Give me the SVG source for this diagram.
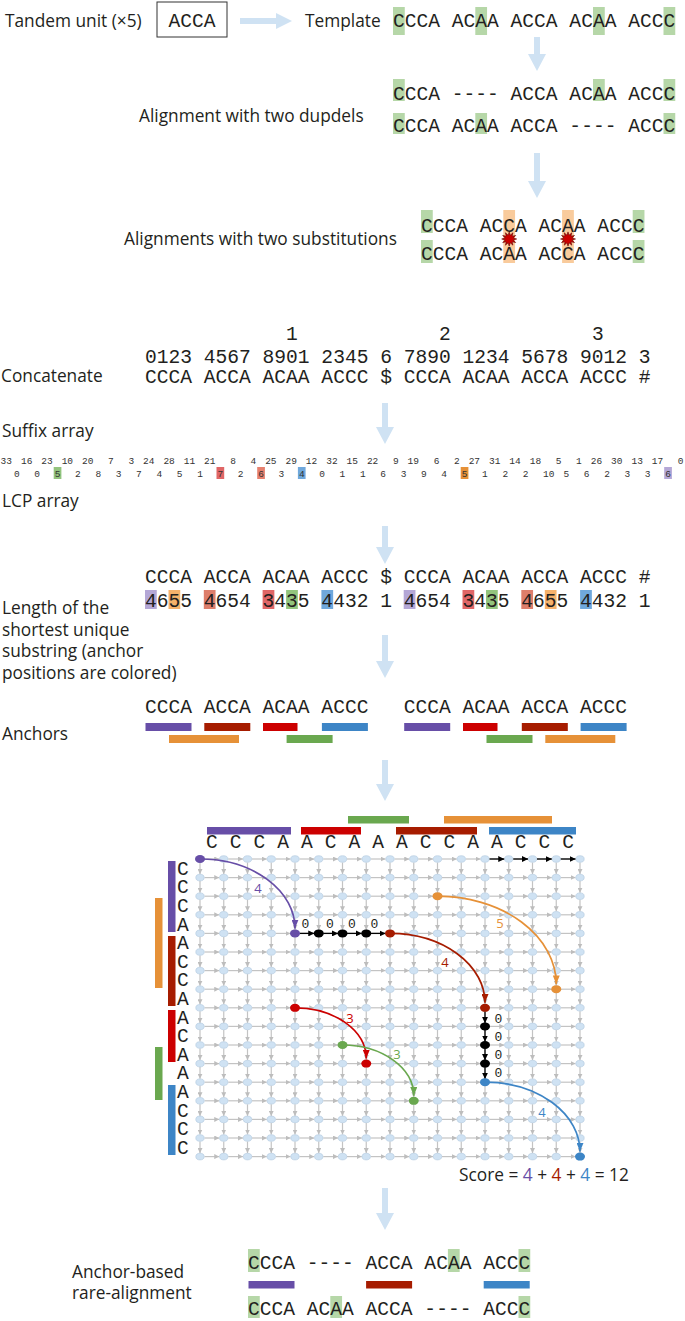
<svg xmlns="http://www.w3.org/2000/svg" width="685" height="1321" viewBox="0 0 685 1321">
<style>
.m{font-family:"Liberation Mono","DejaVu Sans Mono",monospace;font-size:19.6px;fill:#231f20}
.l{font-family:"Open Sans","Liberation Sans",sans-serif;font-size:17.3px;fill:#231f20}
.s{font-family:"Liberation Mono","DejaVu Sans Mono",monospace;font-size:9.5px;fill:#333}
.z{font-family:"Liberation Mono","DejaVu Sans Mono",monospace;font-size:13px;fill:#231f20}
.n{font-family:"Open Sans","Liberation Sans",sans-serif;font-size:13px}
.pa{fill:#cfe2f3}
.hg{fill:#b6d7a8}
.ho{fill:#f9cb9c}
.gl{stroke:#c3c3c3;stroke-width:1.2;marker-end:url(#mg)}
.nd{fill:#cfe2f3;stroke:#b0c8de;stroke-width:0.6}
.bl{stroke:#000;stroke-width:1.3;marker-end:url(#mk)}
.cv{fill:none;stroke-width:1.7}
</style>
<defs>
<marker id="mg" viewBox="0 0 10 10" refX="10" refY="5" markerWidth="5" markerHeight="5" markerUnits="userSpaceOnUse" orient="auto"><path d="M0,0 L10,5 L0,10 z" fill="#bdbdbd"/></marker>
<marker id="mk" viewBox="0 0 10 10" refX="10" refY="5" markerWidth="6" markerHeight="6" markerUnits="userSpaceOnUse" orient="auto"><path d="M0,0 L10,5 L0,10 z" fill="#000"/></marker>
<marker id="mpu" viewBox="0 0 10 8" refX="10" refY="4" markerWidth="9" markerHeight="7" markerUnits="userSpaceOnUse" orient="auto"><path d="M0,0 L10,4 L0,8 z" fill="#674ea7"/></marker>
<marker id="mdr" viewBox="0 0 10 8" refX="10" refY="4" markerWidth="9" markerHeight="7" markerUnits="userSpaceOnUse" orient="auto"><path d="M0,0 L10,4 L0,8 z" fill="#a61c00"/></marker>
<marker id="mre" viewBox="0 0 10 8" refX="10" refY="4" markerWidth="9" markerHeight="7" markerUnits="userSpaceOnUse" orient="auto"><path d="M0,0 L10,4 L0,8 z" fill="#cc0000"/></marker>
<marker id="mgr" viewBox="0 0 10 8" refX="10" refY="4" markerWidth="9" markerHeight="7" markerUnits="userSpaceOnUse" orient="auto"><path d="M0,0 L10,4 L0,8 z" fill="#6aa84f"/></marker>
<marker id="mor" viewBox="0 0 10 8" refX="10" refY="4" markerWidth="9" markerHeight="7" markerUnits="userSpaceOnUse" orient="auto"><path d="M0,0 L10,4 L0,8 z" fill="#e69138"/></marker>
<marker id="mbl" viewBox="0 0 10 8" refX="10" refY="4" markerWidth="9" markerHeight="7" markerUnits="userSpaceOnUse" orient="auto"><path d="M0,0 L10,4 L0,8 z" fill="#3d85c6"/></marker>
<polygon id="burst" points="7.5,0 4.06,1.09 6.5,3.75 2.97,2.97 3.75,6.5 1.09,4.06 0,7.5 -1.09,4.06 -3.75,6.5 -2.97,2.97 -6.5,3.75 -4.06,1.09 -7.5,0 -4.06,-1.09 -6.5,-3.75 -2.97,-2.97 -3.75,-6.5 -1.09,-4.06 0,-7.5 1.09,-4.06 3.75,-6.5 2.97,-2.97 6.5,-3.75 4.06,-1.09" fill="#cc0000" stroke="#5a0000" stroke-width="0.6"/>
<g id="gv">
<line class="gl" x1="200" y1="3.5" x2="200" y2="15.1"/><line class="gl" x1="223.75" y1="3.5" x2="223.75" y2="15.1"/><line class="gl" x1="247.5" y1="3.5" x2="247.5" y2="15.1"/><line class="gl" x1="271.25" y1="3.5" x2="271.25" y2="15.1"/><line class="gl" x1="295" y1="3.5" x2="295" y2="15.1"/><line class="gl" x1="318.75" y1="3.5" x2="318.75" y2="15.1"/><line class="gl" x1="342.5" y1="3.5" x2="342.5" y2="15.1"/><line class="gl" x1="366.25" y1="3.5" x2="366.25" y2="15.1"/><line class="gl" x1="390" y1="3.5" x2="390" y2="15.1"/><line class="gl" x1="413.75" y1="3.5" x2="413.75" y2="15.1"/><line class="gl" x1="437.5" y1="3.5" x2="437.5" y2="15.1"/><line class="gl" x1="461.25" y1="3.5" x2="461.25" y2="15.1"/><line class="gl" x1="485" y1="3.5" x2="485" y2="15.1"/><line class="gl" x1="508.75" y1="3.5" x2="508.75" y2="15.1"/><line class="gl" x1="532.5" y1="3.5" x2="532.5" y2="15.1"/><line class="gl" x1="556.25" y1="3.5" x2="556.25" y2="15.1"/><line class="gl" x1="580" y1="3.5" x2="580" y2="15.1"/>
</g>
<g id="gh">
<line class="gl" x1="204.5" y1="0" x2="219.25" y2="0"/><line class="gl" x1="228.25" y1="0" x2="243" y2="0"/><line class="gl" x1="252" y1="0" x2="266.75" y2="0"/><line class="gl" x1="275.75" y1="0" x2="290.5" y2="0"/><line class="gl" x1="299.5" y1="0" x2="314.25" y2="0"/><line class="gl" x1="323.25" y1="0" x2="338" y2="0"/><line class="gl" x1="347" y1="0" x2="361.75" y2="0"/><line class="gl" x1="370.75" y1="0" x2="385.5" y2="0"/><line class="gl" x1="394.5" y1="0" x2="409.25" y2="0"/><line class="gl" x1="418.25" y1="0" x2="433" y2="0"/><line class="gl" x1="442" y1="0" x2="456.75" y2="0"/><line class="gl" x1="465.75" y1="0" x2="480.5" y2="0"/><line class="gl" x1="489.5" y1="0" x2="504.25" y2="0"/><line class="gl" x1="513.25" y1="0" x2="528" y2="0"/><line class="gl" x1="537" y1="0" x2="551.75" y2="0"/><line class="gl" x1="560.75" y1="0" x2="575.5" y2="0"/>
<ellipse class="nd" cx="200" cy="0" rx="4.2" ry="3.3"/><ellipse class="nd" cx="223.75" cy="0" rx="4.2" ry="3.3"/><ellipse class="nd" cx="247.5" cy="0" rx="4.2" ry="3.3"/><ellipse class="nd" cx="271.25" cy="0" rx="4.2" ry="3.3"/><ellipse class="nd" cx="295" cy="0" rx="4.2" ry="3.3"/><ellipse class="nd" cx="318.75" cy="0" rx="4.2" ry="3.3"/><ellipse class="nd" cx="342.5" cy="0" rx="4.2" ry="3.3"/><ellipse class="nd" cx="366.25" cy="0" rx="4.2" ry="3.3"/><ellipse class="nd" cx="390" cy="0" rx="4.2" ry="3.3"/><ellipse class="nd" cx="413.75" cy="0" rx="4.2" ry="3.3"/><ellipse class="nd" cx="437.5" cy="0" rx="4.2" ry="3.3"/><ellipse class="nd" cx="461.25" cy="0" rx="4.2" ry="3.3"/><ellipse class="nd" cx="485" cy="0" rx="4.2" ry="3.3"/><ellipse class="nd" cx="508.75" cy="0" rx="4.2" ry="3.3"/><ellipse class="nd" cx="532.5" cy="0" rx="4.2" ry="3.3"/><ellipse class="nd" cx="556.25" cy="0" rx="4.2" ry="3.3"/><ellipse class="nd" cx="580" cy="0" rx="4.2" ry="3.3"/>
</g>
</defs>
<rect width="685" height="1321" fill="#fff"/>

<!-- big pale arrows -->
<g id="flow-arrows">
<path class="pa" d="M240,18 L276,18 L276,13 L292,21 L276,29 L276,24 L240,24 Z"/>
<path class="pa" d="M534,37 L540,37 L540,54 L546,54 L537,71 L528,54 L534,54 Z"/>
<path class="pa" d="M534,153 L540,153 L540,181 L546,181 L537,198 L528,181 L534,181 Z"/>
<path class="pa" d="M382,403 L388,403 L388,427 L394,427 L385,444 L376,427 L382,427 Z"/>
<path class="pa" d="M382,526 L388,526 L388,547 L394,547 L385,564 L376,547 L382,547 Z"/>
<path class="pa" d="M382,635 L388,635 L388,661 L394,661 L385,678 L376,661 L382,661 Z"/>
<path class="pa" d="M382,760 L388,760 L388,784 L394,784 L385,801 L376,784 L382,784 Z"/>
<path class="pa" d="M382,1188 L388,1188 L388,1213 L394,1213 L385,1230 L376,1213 L382,1213 Z"/>
</g>

<!-- row 1 -->
<g id="tandem">
<text class="l" x="5" y="27">Tandem unit (×5)</text>
<rect x="157" y="2" width="70" height="35" fill="#fff" stroke="#333" stroke-width="1"/>
<text class="m" x="192" y="27" text-anchor="middle">ACCA</text>
</g>
<g id="template">
<text class="l" x="305" y="27">Template</text>
<rect class="hg" x="393" y="7" width="11.76" height="28"/>
<rect class="hg" x="475.3" y="7" width="11.76" height="28"/>
<rect class="hg" x="593" y="7" width="11.76" height="28"/>
<rect class="hg" x="663.5" y="7" width="11.76" height="28"/>
<text class="m" x="393" y="27">CCCA ACAA ACCA ACAA ACCC</text>
</g>

<g id="dupdels">
<text class="l" x="139" y="122">Alignment with two dupdels</text>
<rect class="hg" x="393" y="79" width="11.76" height="22"/>
<rect class="hg" x="593" y="79" width="11.76" height="22"/>
<rect class="hg" x="663.5" y="79" width="11.76" height="22"/>
<text class="m" x="393" y="100">CCCA ---- ACCA ACAA ACCC</text>
<rect class="hg" x="393" y="113" width="11.76" height="21"/>
<rect class="hg" x="475.3" y="113" width="11.76" height="21"/>
<rect class="hg" x="663.5" y="113" width="11.76" height="21"/>
<text class="m" x="393" y="132">CCCA ACAA ACCA ---- ACCC</text>
</g>

<g id="substitutions">
<text class="l" x="124" y="245">Alignments with two substitutions</text>
<rect class="ho" x="503.3" y="210" width="11.76" height="53"/>
<rect class="ho" x="562.1" y="210" width="11.76" height="53"/>
<rect class="hg" x="421" y="210" width="11.76" height="23"/>
<rect class="hg" x="632.7" y="210" width="11.76" height="23"/>
<rect class="hg" x="421" y="240" width="11.76" height="23"/>
<rect class="hg" x="632.7" y="240" width="11.76" height="23"/>
<text class="m" x="421" y="232">CCCA ACCA ACAA ACCC</text>
<text class="m" x="421" y="260">CCCA ACAA ACCA ACCC</text>
<use href="#burst" transform="translate(509.2,239) scale(1,0.95)"/>
<use href="#burst" transform="translate(568,239) scale(1,0.95)"/>
</g>

<g id="concatenate">
<text class="m" x="286.1" y="339.5">1</text>
<text class="m" x="439" y="339.5">2</text>
<text class="m" x="591.9" y="339.5">3</text>
<text class="m" x="145" y="363">0123 4567 8901 2345 6 7890 1234 5678 9012 3</text>
<text class="l" x="1" y="382">Concatenate</text>
<text class="m" x="145" y="383">CCCA ACCA ACAA ACCC $ CCCA ACAA ACCA ACCC #</text>
</g>

<g id="suffix-lcp">
<text class="l" x="2" y="437">Suffix array</text>
<text class="l" x="2" y="507">LCP array</text>
<rect x="53.7" y="467" width="7.7" height="12" fill="#93c47d"/>
<rect x="216.5" y="467" width="7.7" height="12" fill="#e06666"/>
<rect x="257.2" y="467" width="7.7" height="12" fill="#e6806e"/>
<rect x="297.9" y="467" width="7.7" height="12" fill="#6fa8dc"/>
<rect x="460.7" y="467" width="7.7" height="12" fill="#e69138"/>
<rect x="664.2" y="467" width="7.7" height="12" fill="#b4a7d6"/>
<g class="s" text-anchor="end">
<text x="12" y="464">33</text><text x="32.35" y="464">16</text><text x="52.7" y="464">23</text><text x="73.05" y="464">10</text><text x="93.4" y="464">20</text><text x="113.75" y="464">7</text><text x="134.1" y="464">3</text><text x="154.45" y="464">24</text><text x="174.8" y="464">28</text><text x="195.15" y="464">11</text><text x="215.5" y="464">21</text><text x="235.85" y="464">8</text><text x="256.2" y="464">4</text><text x="276.55" y="464">25</text><text x="296.9" y="464">29</text><text x="317.25" y="464">12</text><text x="337.6" y="464">32</text><text x="357.95" y="464">15</text><text x="378.3" y="464">22</text><text x="398.65" y="464">9</text><text x="419" y="464">19</text><text x="439.35" y="464">6</text><text x="459.7" y="464">2</text><text x="480.05" y="464">27</text><text x="500.4" y="464">31</text><text x="520.75" y="464">14</text><text x="541.1" y="464">18</text><text x="561.45" y="464">5</text><text x="581.8" y="464">1</text><text x="602.15" y="464">26</text><text x="622.5" y="464">30</text><text x="642.85" y="464">13</text><text x="663.2" y="464">17</text><text x="683.55" y="464">0</text>
</g>
<g class="s">
<text x="14" y="477">0</text><text x="34.35" y="477">0</text><text x="54.7" y="477">5</text><text x="75.05" y="477">2</text><text x="95.4" y="477">8</text><text x="115.75" y="477">3</text><text x="136.1" y="477">7</text><text x="156.45" y="477">4</text><text x="176.8" y="477">5</text><text x="197.15" y="477">1</text><text x="217.5" y="477">7</text><text x="237.85" y="477">2</text><text x="258.2" y="477">6</text><text x="278.55" y="477">3</text><text x="298.9" y="477">4</text><text x="319.25" y="477">0</text><text x="339.6" y="477">1</text><text x="359.95" y="477">1</text><text x="380.3" y="477">6</text><text x="400.65" y="477">3</text><text x="421" y="477">9</text><text x="441.35" y="477">4</text><text x="461.7" y="477">5</text><text x="482.05" y="477">1</text><text x="502.4" y="477">2</text><text x="522.75" y="477">2</text><text x="543.1" y="477">10</text><text x="563.45" y="477">5</text><text x="583.8" y="477">6</text><text x="604.15" y="477">2</text><text x="624.5" y="477">3</text><text x="644.85" y="477">3</text><text x="665.2" y="477">6</text>
</g>
</g>

<g id="lengths">
<text class="m" x="145" y="583">CCCA ACCA ACAA ACCC $ CCCA ACAA ACCA ACCC #</text>
<rect x="145" y="590" width="11.76" height="19" fill="#b4a7d6"/>
<rect x="168.5" y="590" width="11.76" height="19" fill="#f6b26b"/>
<rect x="203.8" y="590" width="11.76" height="19" fill="#dd7e6b"/>
<rect x="262.6" y="590" width="11.76" height="19" fill="#e06666"/>
<rect x="286.1" y="590" width="11.76" height="19" fill="#93c47d"/>
<rect x="321.4" y="590" width="11.76" height="19" fill="#6fa8dc"/>
<rect x="403.7" y="590" width="11.76" height="19" fill="#b4a7d6"/>
<rect x="462.5" y="590" width="11.76" height="19" fill="#e06666"/>
<rect x="486" y="590" width="11.76" height="19" fill="#93c47d"/>
<rect x="521.3" y="590" width="11.76" height="19" fill="#dd7e6b"/>
<rect x="544.8" y="590" width="11.76" height="19" fill="#f6b26b"/>
<rect x="580.1" y="590" width="11.76" height="19" fill="#6fa8dc"/>
<text class="m" x="145" y="607">4655 4654 3435 4432 1 4654 3435 4655 4432 1</text>
<text class="l" x="2" y="614">Length of the</text>
<text class="l" x="2" y="635.5">shortest unique</text>
<text class="l" x="2" y="657">substring (anchor</text>
<text class="l" x="2" y="678.5">positions are colored)</text>
</g>

<g id="anchors">
<text class="m" x="145" y="713">CCCA ACCA ACAA ACCC</text>
<text class="m" x="403.7" y="713">CCCA ACAA ACCA ACCC</text>
<text class="l" x="2" y="740">Anchors</text>
<rect x="145.5" y="723" width="46" height="8" fill="#674ea7"/>
<rect x="204.3" y="723" width="46" height="8" fill="#a61c00"/>
<rect x="263" y="723" width="34.5" height="8" fill="#cc0000"/>
<rect x="321.9" y="723" width="46" height="8" fill="#3d85c6"/>
<rect x="404.2" y="723" width="46" height="8" fill="#674ea7"/>
<rect x="463" y="723" width="34.5" height="8" fill="#cc0000"/>
<rect x="521.8" y="723" width="46" height="8" fill="#a61c00"/>
<rect x="580.6" y="723" width="46" height="8" fill="#3d85c6"/>
<rect x="169" y="735" width="70" height="8" fill="#e69138"/>
<rect x="286.6" y="735" width="46" height="8" fill="#6aa84f"/>
<rect x="486.5" y="735" width="46" height="8" fill="#6aa84f"/>
<rect x="545.3" y="735" width="70" height="8" fill="#e69138"/>
</g>

<g id="grid-labels">
<rect x="348" y="816" width="61" height="7.5" fill="#6aa84f"/>
<rect x="444" y="816" width="108" height="7.5" fill="#e69138"/>
<rect x="207" y="827" width="84" height="7.5" fill="#674ea7"/>
<rect x="301" y="827" width="60" height="7.5" fill="#cc0000"/>
<rect x="396" y="827" width="81" height="7.5" fill="#a61c00"/>
<rect x="489" y="827" width="87" height="7.5" fill="#3d85c6"/>
<text class="m" text-anchor="middle" x="211.9 235.6 259.4 283.1 306.9 330.6 354.4 378.1 401.9 425.6 449.4 473.1 496.9 520.6 544.4 568.1" y="848">CCCAACAAACCAACCC</text>
<rect x="168" y="861" width="7.5" height="71" fill="#674ea7"/>
<rect x="168" y="936" width="7.5" height="70" fill="#a61c00"/>
<rect x="168" y="1010" width="7.5" height="52" fill="#cc0000"/>
<rect x="168" y="1085" width="7.5" height="70" fill="#3d85c6"/>
<rect x="155" y="898" width="7.5" height="90" fill="#e69138"/>
<rect x="155" y="1047" width="7.5" height="53" fill="#6aa84f"/>
<text class="m" text-anchor="middle" x="183 183 183 183 183 183 183 183 183 183 183 183 183 183 183 183" y="874.8 893.4 912 930.6 949.2 967.8 986.4 1005 1023.6 1042.2 1060.8 1079.4 1098 1116.6 1135.2 1153.8">CCCAACCAACAAACCC</text>
</g>

<g id="grid">
<use href="#gv" y="859"/><use href="#gv" y="877.6"/><use href="#gv" y="896.2"/><use href="#gv" y="914.8"/><use href="#gv" y="933.4"/><use href="#gv" y="952"/><use href="#gv" y="970.6"/><use href="#gv" y="989.2"/><use href="#gv" y="1007.8"/><use href="#gv" y="1026.4"/><use href="#gv" y="1045"/><use href="#gv" y="1063.6"/><use href="#gv" y="1082.2"/><use href="#gv" y="1100.8"/><use href="#gv" y="1119.4"/><use href="#gv" y="1138"/>
<use href="#gh" y="859"/><use href="#gh" y="877.6"/><use href="#gh" y="896.2"/><use href="#gh" y="914.8"/><use href="#gh" y="933.4"/><use href="#gh" y="952"/><use href="#gh" y="970.6"/><use href="#gh" y="989.2"/><use href="#gh" y="1007.8"/><use href="#gh" y="1026.4"/><use href="#gh" y="1045"/><use href="#gh" y="1063.6"/><use href="#gh" y="1082.2"/><use href="#gh" y="1100.8"/><use href="#gh" y="1119.4"/><use href="#gh" y="1138"/><use href="#gh" y="1156.6"/>
</g>

<g id="connectors">
<line class="bl" x1="489.5" y1="859" x2="504.25" y2="859"/><line class="bl" x1="513.25" y1="859" x2="528" y2="859"/><line class="bl" x1="537" y1="859" x2="551.75" y2="859"/><line class="bl" x1="560.75" y1="859" x2="575.5" y2="859"/>
<line class="bl" x1="299.5" y1="933.4" x2="314.25" y2="933.4"/><line class="bl" x1="323.25" y1="933.4" x2="338" y2="933.4"/><line class="bl" x1="347" y1="933.4" x2="361.75" y2="933.4"/><line class="bl" x1="370.75" y1="933.4" x2="385.5" y2="933.4"/>
<line class="bl" x1="485" y1="1011.3" x2="485" y2="1022.9"/><line class="bl" x1="485" y1="1029.9" x2="485" y2="1041.5"/><line class="bl" x1="485" y1="1048.5" x2="485" y2="1060.1"/><line class="bl" x1="485" y1="1067.1" x2="485" y2="1078.7"/>
<path class="cv" stroke="#674ea7" marker-end="url(#mpu)" d="M200,859 A95,69.4 0 0 1 295,928.4"/>
<path class="cv" stroke="#e69138" marker-end="url(#mor)" d="M437.5,896.2 A118.75,88 0 0 1 556.25,984.2"/>
<path class="cv" stroke="#a61c00" marker-end="url(#mdr)" d="M390,933.4 A95,69.4 0 0 1 485,1002.8"/>
<path class="cv" stroke="#cc0000" marker-end="url(#mre)" d="M295,1007.8 A71.25,50.8 0 0 1 366.25,1058.6"/>
<path class="cv" stroke="#6aa84f" marker-end="url(#mgr)" d="M342.5,1045 A71.25,50.8 0 0 1 413.75,1095.8"/>
<path class="cv" stroke="#3d85c6" marker-end="url(#mbl)" d="M485,1082.2 A95,69.4 0 0 1 580,1151.6"/>
<text class="n" x="258" y="893" fill="#674ea7" text-anchor="middle">4</text>
<text class="n" x="500" y="928" fill="#e69138" text-anchor="middle">5</text>
<text class="n" x="445" y="967" fill="#a61c00" text-anchor="middle">4</text>
<text class="n" x="350" y="1023" fill="#cc0000" text-anchor="middle">3</text>
<text class="n" x="397" y="1059" fill="#6aa84f" text-anchor="middle">3</text>
<text class="n" x="542" y="1117" fill="#3d85c6" text-anchor="middle">4</text>
<g class="z" text-anchor="middle">
<text x="305.5" y="927.5">0</text><text x="330" y="927.5">0</text><text x="352" y="927.5">0</text><text x="374.5" y="927.5">0</text>
<text x="498.5" y="1022.5">0</text><text x="498.5" y="1041">0</text><text x="498.5" y="1059">0</text><text x="498.5" y="1077">0</text>
</g>
</g>

<g id="path-nodes">
<ellipse cx="318.75" cy="933.4" rx="5" ry="4" fill="#000"/>
<ellipse cx="342.5" cy="933.4" rx="5" ry="4" fill="#000"/>
<ellipse cx="366.25" cy="933.4" rx="5" ry="4" fill="#000"/>
<ellipse cx="485" cy="1026.4" rx="5" ry="4" fill="#000"/>
<ellipse cx="485" cy="1045" rx="5" ry="4" fill="#000"/>
<ellipse cx="485" cy="1063.6" rx="5" ry="4" fill="#000"/>
<ellipse cx="200" cy="859" rx="5" ry="4" fill="#674ea7"/>
<ellipse cx="295" cy="933.4" rx="5" ry="4" fill="#674ea7"/>
<ellipse cx="390" cy="933.4" rx="5" ry="4" fill="#a61c00"/>
<ellipse cx="485" cy="1007.8" rx="5" ry="4" fill="#a61c00"/>
<ellipse cx="437.5" cy="896.2" rx="5" ry="4" fill="#e69138"/>
<ellipse cx="556.25" cy="989.2" rx="5" ry="4" fill="#e69138"/>
<ellipse cx="295" cy="1007.8" rx="5" ry="4" fill="#cc0000"/>
<ellipse cx="366.25" cy="1063.6" rx="5" ry="4" fill="#cc0000"/>
<ellipse cx="342.5" cy="1045" rx="5" ry="4" fill="#6aa84f"/>
<ellipse cx="413.75" cy="1100.8" rx="5" ry="4" fill="#6aa84f"/>
<ellipse cx="485" cy="1082.2" rx="5" ry="4" fill="#3d85c6"/>
<ellipse cx="580" cy="1156.6" rx="5" ry="4" fill="#3d85c6"/>
</g>

<g id="score">
<text class="l" x="459" y="1181">Score = <tspan fill="#674ea7">4</tspan> + <tspan fill="#a61c00">4</tspan> + <tspan fill="#3d85c6">4</tspan> = 12</text>
</g>

<g id="rare-alignment">
<text class="l" x="72" y="1278">Anchor-based</text>
<text class="l" x="72" y="1299">rare-alignment</text>
<rect class="hg" x="248" y="1249" width="11.76" height="23"/>
<rect class="hg" x="447.9" y="1249" width="11.76" height="23"/>
<rect class="hg" x="518.5" y="1249" width="11.76" height="23"/>
<text class="m" x="248" y="1269">CCCA ---- ACCA ACAA ACCC</text>
<rect x="248.5" y="1281" width="46" height="7.5" fill="#674ea7"/>
<rect x="366.1" y="1281" width="46" height="7.5" fill="#a61c00"/>
<rect x="483.7" y="1281" width="46" height="7.5" fill="#3d85c6"/>
<rect class="hg" x="248" y="1296" width="11.76" height="22"/>
<rect class="hg" x="330.3" y="1296" width="11.76" height="22"/>
<rect class="hg" x="518.5" y="1296" width="11.76" height="22"/>
<text class="m" x="248" y="1315">CCCA ACAA ACCA ---- ACCC</text>
</g>
</svg>
